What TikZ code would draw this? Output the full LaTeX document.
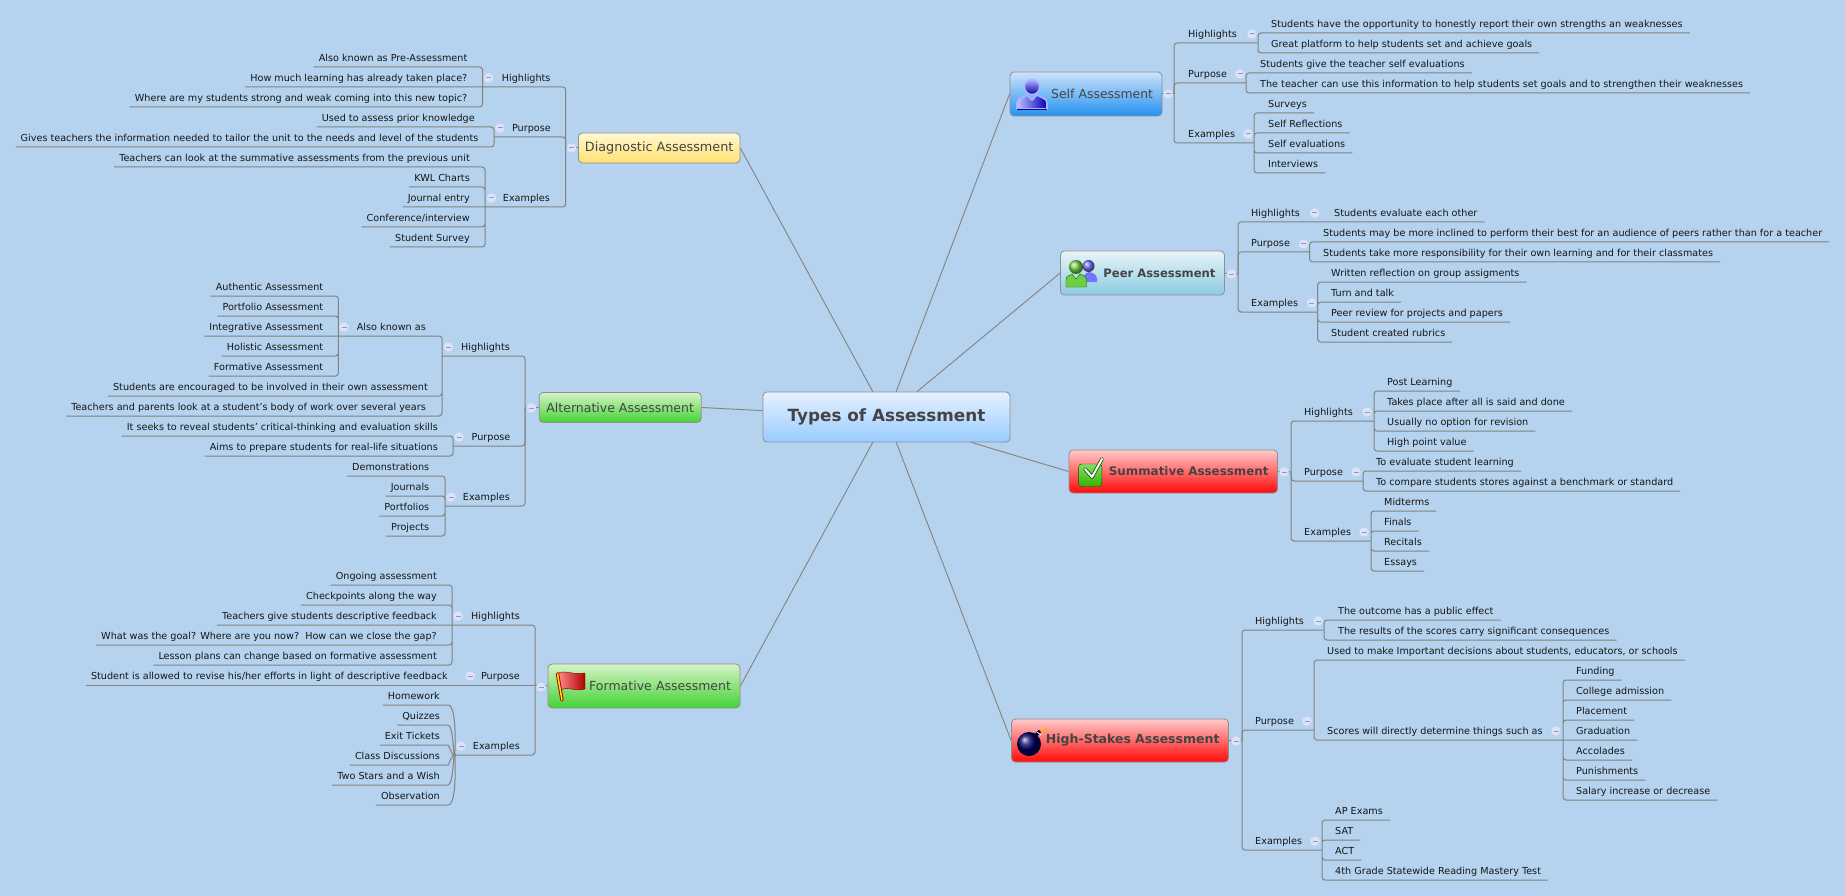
\documentclass[tikz,border=0pt]{standalone}
\usepackage{fontspec}
\setmainfont{DejaVu Sans}
\usetikzlibrary{positioning,calc}
\definecolor{paper}{HTML}{B5D2EE}
\definecolor{wire}{HTML}{85827F}
\definecolor{ink}{HTML}{161616}
\definecolor{boxink}{HTML}{444444}
\definecolor{foldfill}{HTML}{DCE3F8}
\definecolor{foldbar}{HTML}{8E98C8}
\definecolor{typestop}{HTML}{E6F1FF}
\definecolor{typesbot}{HTML}{98CCFF}
\definecolor{yellowtop}{HTML}{FFF9D2}
\definecolor{yellowbot}{HTML}{FFE070}
\definecolor{greentop}{HTML}{D6F3C6}
\definecolor{greenbot}{HTML}{44D335}
\definecolor{bluetop}{HTML}{CDE3FB}
\definecolor{bluebot}{HTML}{2391F0}
\definecolor{tealtop}{HTML}{E8F4F8}
\definecolor{tealbot}{HTML}{8CCBE2}
\definecolor{redtop}{HTML}{FFCACA}
\definecolor{redbot}{HTML}{FF0A0A}

\begin{document}
\begin{tikzpicture}[
    x=1pt,y=-1pt,
    conn/.style={draw=wire,line width=1pt,rounded corners=3pt},
    spoke/.style={draw=wire,line width=0.9pt},
    topic/.style={rectangle,draw=wire!90,line width=0.8pt,rounded corners=4pt,minimum height=30pt,align=right,inner xsep=9pt,inner ysep=0pt,text=boxink,font=\fontsize{12.5}{15}\selectfont},
    leafl/.style={anchor=south east,inner xsep=5pt,inner ysep=3pt,text height=9pt,text depth=2.5pt,text=ink,font=\fontsize{9.65}{12}\selectfont},
    leafr/.style={anchor=south west,inner xsep=7pt,inner ysep=3pt,text height=9pt,text depth=2.5pt,text=ink,font=\fontsize{9.65}{12}\selectfont},
    branchl/.style={leafl,inner xsep=0pt},
    branchr/.style={leafr,inner xsep=0pt},
    fold/.style={circle,fill=foldfill,minimum size=9.5pt,inner sep=0pt,path picture={\draw[foldbar,line width=1pt] ([xshift=-2.5pt]path picture bounding box.center) -- ([xshift=2.5pt]path picture bounding box.center);}},
    yellowbox/.style={topic,top color=yellowtop,bottom color=yellowbot},
    greenbox/.style={topic,top color=greentop,bottom color=greenbot},
    bluebox/.style={topic,top color=bluetop,bottom color=bluebot},
    tealbox/.style={topic,top color=tealtop,bottom color=tealbot},
    redbox/.style={topic,top color=redtop,bottom color=redbot}
]
    \fill[paper] (0,0) rectangle (1845,896);

    % centre and topics
    \node[topic,font=\fontsize{16.8}{20}\bfseries\selectfont,align=center,minimum width=247pt,minimum height=50pt,top color=typestop,bottom color=typesbot] (types) at (886.5,417) {Types of Assessment};
    \node[yellowbox,align=center,inner xsep=2pt,minimum width=161.5pt,font=\fontsize{12.8}{15}\selectfont] (diag) at (659.2,148) {Diagnostic Assessment};
    \node[greenbox,align=center,inner xsep=2pt,minimum width=162pt] (alt) at (620.2,407.5) {Alternative Assessment};
    \node[greenbox,text width=174pt,minimum height=44pt] (form) at (644,686) {Formative Assessment};
    \node[bluebox,text width=134pt,minimum height=44pt,font=\fontsize{12.4}{15}\selectfont] (self) at (1086,94) {Self Assessment};
    \node[tealbox,text width=146pt,minimum height=44pt,font=\fontsize{11.6}{15}\bfseries\selectfont] (peer) at (1142.5,273) {Peer Assessment};
    \node[redbox,text width=190.5pt,minimum height=43pt,font=\fontsize{11.9}{15}\bfseries\selectfont] (summ) at (1173.3,471.5) {Summative Assessment};
    \node[redbox,text width=199pt,minimum height=43pt,font=\fontsize{12.5}{15}\bfseries\selectfont] (high) at (1120,740.5) {High-Stakes Assessment};

    \draw[spoke] (types) -- (diag.east);
    \draw[spoke] (types) -- (alt.east);
    \draw[spoke] (types) -- (form.east);
    \draw[spoke] (types) -- (self.west);
    \draw[spoke] (types) -- (peer.west);
    \draw[spoke] (types) -- (summ.west);
    \draw[spoke] (types) -- (high.west);

    % trunks and brackets
    \coordinate (diagtrunk) at (565.6,148);
    \coordinate (diaghighb) at (482.5,87);
    \coordinate (diagpurpb) at (494,137);
    \coordinate (diagexamb) at (485,207);
    \coordinate (alttrunk) at (525,408);
    \coordinate (althighb) at (442,356);
    \coordinate (altakab) at (338.4,336);
    \coordinate (altpurpb) at (453,446);
    \coordinate (altexamb) at (445,506);
    \coordinate (formtrunk) at (535,685);
    \coordinate (formhighb) at (452,625);
    \coordinate (formexamb) at (455,755);
    \coordinate (selftrunk) at (1174,94);
    \coordinate (selfhighb) at (1258,43);
    \coordinate (selfpurpb) at (1246,83);
    \coordinate (selfexamb) at (1254,143);
    \coordinate (peertrunk) at (1238,274);
    \coordinate (peerpurpb) at (1309.6,252);
    \coordinate (peerexamb) at (1317.7,312);
    \coordinate (summtrunk) at (1291,472);
    \coordinate (summhighb) at (1374,421);
    \coordinate (summpurpb) at (1363,481);
    \coordinate (summexamb) at (1371,541);
    \coordinate (hightrunk) at (1242,741);
    \coordinate (highhighb) at (1324,630);
    \coordinate (highpurpb) at (1314,730);
    \coordinate (highscorb) at (1563,740);
    \coordinate (highexamb) at (1322,850);

    % diagnostic
    \node[branchl] (diaghigh) at (550.7,87) {Highlights};
    \node[branchl] (diagpurp) at (551,137) {Purpose};
    \node[branchl] (diagexam) at (550,207) {Examples};
    \node[leafl] (diaghighA) at (472.5,67) {Also known as Pre-Assessment};
    \node[leafl] (diaghighB) at (472.5,87) {How much learning has already taken place?};
    \node[leafl] (diaghighC) at (472.5,107) {Where are my students strong and weak coming into this new topic?};
    \node[leafl] (diagpurpA) at (480,127) {Used to assess prior knowledge};
    \node[leafl] (diagpurpB) at (483.5,147) {Gives teachers the information needed to tailor the unit to the needs and level of the students};
    \node[leafl] (diagexamA) at (475,167) {Teachers can look at the summative assessments from the previous unit};
    \node[leafl] (diagexamB) at (475,187) {KWL Charts};
    \node[leafl] (diagexamC) at (475,207) {Journal entry};
    \node[leafl] (diagexamD) at (475,227) {Conference/interview};
    \node[leafl] (diagexamE) at (475,247) {Student Survey};

    \draw[conn] (diag.west) -- (diagtrunk);
    \draw[conn] (diagtrunk) |- (diaghigh.south east) -- (diaghighb);
    \draw[conn] (diagtrunk) |- (diagpurp.south east) -- (diagpurpb);
    \draw[conn] (diagtrunk) |- (diagexam.south east) -- (diagexamb);
    \draw[conn] (diaghighb) |- (diaghighA.south west) (diaghighb) -- (diaghighB.south west) (diaghighb) |- (diaghighC.south west);
    \draw[conn] (diagpurpb) |- (diagpurpA.south west) (diagpurpb) |- (diagpurpB.south west);
    \draw[conn] (diagexamb) |- (diagexamA.south west) (diagexamb) |- (diagexamB.south west) (diagexamb) -- (diagexamC.south west) (diagexamb) |- (diagexamD.south west) (diagexamb) |- (diagexamE.south west);

    % alternative
    \node[branchl] (althigh) at (510,356) {Highlights};
    \node[branchl] (altaka) at (426,336) {Also known as};
    \node[branchl] (altpurp) at (510.6,446) {Purpose};
    \node[branchl] (altexam) at (510,506) {Examples};
    \node[leafl] (altakaA) at (328.4,296) {Authentic Assessment};
    \node[leafl] (altakaB) at (328.4,316) {Portfolio Assessment};
    \node[leafl] (altakaC) at (328.4,336) {Integrative Assessment};
    \node[leafl] (altakaD) at (328.4,356) {Holistic Assessment};
    \node[leafl] (altakaE) at (328.4,376) {Formative Assessment};
    \node[leafl] (althighA) at (433,396) {Students are encouraged to be involved in their own assessment};
    \node[leafl] (althighB) at (431,416) {Teachers and parents look at a student's body of work over several years};
    \node[leafl] (altpurpA) at (443,436) {It seeks to reveal students' critical-thinking and evaluation skills};
    \node[leafl] (altpurpB) at (443,456) {Aims to prepare students for real-life situations};
    \node[leafl] (altexamA) at (434.4,476) {Demonstrations};
    \node[leafl] (altexamB) at (434.4,496) {Journals};
    \node[leafl] (altexamC) at (434.4,516) {Portfolios};
    \node[leafl] (altexamD) at (434.4,536) {Projects};

    \draw[conn] (alt.west) -- (alttrunk);
    \draw[conn] (alttrunk) |- (althigh.south east) -- (althighb);
    \draw[conn] (alttrunk) |- (altpurp.south east) -- (altpurpb);
    \draw[conn] (alttrunk) |- (altexam.south east) -- (altexamb);
    \draw[conn] (althighb) |- (altaka.south east) -- (altakab);
    \draw[conn] (althighb) |- (althighA.south west) (althighb) |- (althighB.south west);
    \draw[conn] (altakab) |- (altakaA.south west) (altakab) |- (altakaB.south west) (altakab) -- (altakaC.south west) (altakab) |- (altakaD.south west) (altakab) |- (altakaE.south west);
    \draw[conn] (altpurpb) |- (altpurpA.south west) (altpurpb) |- (altpurpB.south west);
    \draw[conn] (altexamb) |- (altexamA.south west) (altexamb) |- (altexamB.south west) (altexamb) |- (altexamC.south west) (altexamb) |- (altexamD.south west);

    % formative
    \node[branchl] (formhigh) at (520,625) {Highlights};
    \node[branchl] (formpurp) at (520,685) {Purpose};
    \node[branchl] (formexam) at (520,755) {Examples};
    \node[leafl] (formhighA) at (442,585) {Ongoing assessment};
    \node[leafl] (formhighB) at (442,605) {Checkpoints along the way};
    \node[leafl] (formhighC) at (442,625) {Teachers give students descriptive feedback};
    \node[leafl] (formhighD) at (442,645) {What was the goal? Where are you now?\ \ How can we close the gap?};
    \node[leafl] (formhighE) at (442,665) {Lesson plans can change based on formative assessment};
    \node[leafl] (formpurpA) at (453,685) {Student is allowed to revise his/her efforts in light of descriptive feedback};
    \node[leafl] (formexamA) at (445,705) {Homework};
    \node[leafl] (formexamB) at (445,725) {Quizzes};
    \node[leafl] (formexamC) at (445,745) {Exit Tickets};
    \node[leafl] (formexamD) at (445,765) {Class Discussions};
    \node[leafl] (formexamE) at (445,785) {Two Stars and a Wish};
    \node[leafl] (formexamF) at (445,805) {Observation};

    \draw[conn] (form.west) -- (formtrunk);
    \draw[conn] (formtrunk) |- (formhigh.south east) -- (formhighb);
    \draw[conn] (formtrunk) -- (formpurpA.south west);
    \draw[conn] (formtrunk) |- (formexam.south east) -- (formexamb);
    \draw[conn] (formhighb) |- (formhighA.south west) (formhighb) |- (formhighB.south west) (formhighb) -- (formhighC.south west) (formhighb) |- (formhighD.south west) (formhighb) |- (formhighE.south west);
    \draw[conn] (formexamb) to[out=-95,in=0,looseness=0.7] (formexamA.south east) -- (formexamA.south west);
    \draw[conn] (formexamb) to[out=-100,in=0,looseness=0.7] (formexamB.south east) -- (formexamB.south west);
    \draw[conn] (formexamb) to[out=-120,in=0,looseness=0.7] (formexamC.south east) -- (formexamC.south west);
    \draw[conn] (formexamb) to[out=120,in=0,looseness=0.7] (formexamD.south east) -- (formexamD.south west);
    \draw[conn] (formexamb) to[out=100,in=0,looseness=0.7] (formexamE.south east) -- (formexamE.south west);
    \draw[conn] (formexamb) to[out=95,in=0,looseness=0.7] (formexamF.south east) -- (formexamF.south west);

    % self
    \node[branchr] (selfhigh) at (1188,43) {Highlights};
    \node[branchr] (selfpurp) at (1188,83) {Purpose};
    \node[branchr] (selfexam) at (1188,143) {Examples};
    \node[leafr] (selfhighA) at (1264,33) {Students have the opportunity to honestly report their own strengths an weaknesses};
    \node[leafr] (selfhighB) at (1264,53) {Great platform to help students set and achieve goals};
    \node[leafr] (selfpurpA) at (1253,73) {Students give the teacher self evaluations};
    \node[leafr] (selfpurpB) at (1253,93) {The teacher can use this information to help students set goals and to strengthen their weaknesses};
    \node[leafr] (selfexamA) at (1261,113) {Surveys};
    \node[leafr] (selfexamB) at (1261,133) {Self Reflections};
    \node[leafr] (selfexamC) at (1261,153) {Self evaluations};
    \node[leafr] (selfexamD) at (1261,173) {Interviews};

    \draw[conn] (self.east) -- (selftrunk);
    \draw[conn] (selftrunk) |- (selfhigh.south west) -- (selfhighb);
    \draw[conn] (selftrunk) |- (selfpurp.south west) -- (selfpurpb);
    \draw[conn] (selftrunk) |- (selfexam.south west) -- (selfexamb);
    \draw[conn] (selfhighb) |- (selfhighA.south east) (selfhighb) |- (selfhighB.south east);
    \draw[conn] (selfpurpb) |- (selfpurpA.south east) (selfpurpb) |- (selfpurpB.south east);
    \draw[conn] (selfexamb) |- (selfexamA.south east) (selfexamb) |- (selfexamB.south east) (selfexamb) |- (selfexamC.south east) (selfexamb) |- (selfexamD.south east);

    % peer
    \node[branchr] (peerhigh) at (1251,222) {Highlights};
    \node[branchr] (peerpurp) at (1251,252) {Purpose};
    \node[branchr] (peerexam) at (1251,312) {Examples};
    \node[leafr] (peerhighA) at (1327,222) {Students evaluate each other};
    \node[leafr] (peerpurpA) at (1316,242) {Students may be more inclined to perform their best for an audience of peers rather than for a teacher};
    \node[leafr] (peerpurpB) at (1316,262) {Students take more responsibility for their own learning and for their classmates};
    \node[leafr] (peerexamA) at (1324,282) {Written reflection on group assigments};
    \node[leafr] (peerexamB) at (1324,302) {Turn and talk};
    \node[leafr] (peerexamC) at (1324,322) {Peer review for projects and papers};
    \node[leafr] (peerexamD) at (1324,342) {Student created rubrics};

    \draw[conn] (peer.east) -- (peertrunk);
    \draw[conn] (peertrunk) |- (peerhighA.south east);
    \draw[conn] (peertrunk) |- (peerpurp.south west) -- (peerpurpb);
    \draw[conn] (peertrunk) |- (peerexam.south west) -- (peerexamb);
    \draw[conn] (peerpurpb) |- (peerpurpA.south east) (peerpurpb) |- (peerpurpB.south east);
    \draw[conn] (peerexamb) |- (peerexamA.south east) (peerexamb) |- (peerexamB.south east) (peerexamb) |- (peerexamC.south east) (peerexamb) |- (peerexamD.south east);

    % summative
    \node[branchr] (summhigh) at (1304,421) {Highlights};
    \node[branchr] (summpurp) at (1304,481) {Purpose};
    \node[branchr] (summexam) at (1304,541) {Examples};
    \node[leafr] (summhighA) at (1380,391) {Post Learning};
    \node[leafr] (summhighB) at (1380,411) {Takes place after all is said and done};
    \node[leafr] (summhighC) at (1380,431) {Usually no option for revision};
    \node[leafr] (summhighD) at (1380,451) {High point value};
    \node[leafr] (summpurpA) at (1369,471) {To evaluate student learning};
    \node[leafr] (summpurpB) at (1369,491) {To compare students stores against a benchmark or standard};
    \node[leafr] (summexamA) at (1377,511) {Midterms};
    \node[leafr] (summexamB) at (1377,531) {Finals};
    \node[leafr] (summexamC) at (1377,551) {Recitals};
    \node[leafr] (summexamD) at (1377,571) {Essays};

    \draw[conn] (summ.east) -- (summtrunk);
    \draw[conn] (summtrunk) |- (summhigh.south west) -- (summhighb);
    \draw[conn] (summtrunk) |- (summpurp.south west) -- (summpurpb);
    \draw[conn] (summtrunk) |- (summexam.south west) -- (summexamb);
    \draw[conn] (summhighb) |- (summhighA.south east) (summhighb) |- (summhighB.south east) (summhighb) |- (summhighC.south east) (summhighb) |- (summhighD.south east);
    \draw[conn] (summpurpb) |- (summpurpA.south east) (summpurpb) |- (summpurpB.south east);
    \draw[conn] (summexamb) |- (summexamA.south east) (summexamb) |- (summexamB.south east) (summexamb) |- (summexamC.south east) (summexamb) |- (summexamD.south east);

    % high-stakes
    \node[branchr] (highhigh) at (1255,630) {Highlights};
    \node[branchr] (highpurp) at (1255,730) {Purpose};
    \node[branchr] (highexam) at (1255,850) {Examples};
    \node[leafr] (highhighA) at (1331,620) {The outcome has a public effect};
    \node[leafr] (highhighB) at (1331,640) {The results of the scores carry significant consequences};
    \node[leafr] (highpurpA) at (1320,660) {Used to make Important decisions about students, educators, or schools};
    \node[branchr] (highscor) at (1327,740) {Scores will directly determine things such as};
    \node[leafr] (highscorA) at (1569,680) {Funding};
    \node[leafr] (highscorB) at (1569,700) {College admission};
    \node[leafr] (highscorC) at (1569,720) {Placement};
    \node[leafr] (highscorD) at (1569,740) {Graduation};
    \node[leafr] (highscorE) at (1569,760) {Accolades};
    \node[leafr] (highscorF) at (1569,780) {Punishments};
    \node[leafr] (highscorG) at (1569,800) {Salary increase or decrease};
    \node[leafr] (highexamA) at (1328,820) {AP Exams};
    \node[leafr] (highexamB) at (1328,840) {SAT};
    \node[leafr] (highexamC) at (1328,860) {ACT};
    \node[leafr] (highexamD) at (1328,880) {4th Grade Statewide Reading Mastery Test};

    \draw[conn] (high.east) -- (hightrunk);
    \draw[conn] (hightrunk) |- (highhigh.south west) -- (highhighb);
    \draw[conn] (hightrunk) |- (highpurp.south west) -- (highpurpb);
    \draw[conn] (hightrunk) |- (highexam.south west) -- (highexamb);
    \draw[conn] (highhighb) |- (highhighA.south east) (highhighb) |- (highhighB.south east);
    \draw[conn] (highpurpb) |- (highpurpA.south east);
    \draw[conn] (highpurpb) |- (highscor.south west) -- (highscorb);
    \draw[conn] (highscorb) |- (highscorA.south east) (highscorb) |- (highscorB.south east) (highscorb) |- (highscorC.south east) (highscorb) -- (highscorD.south east) (highscorb) |- (highscorE.south east) (highscorb) |- (highscorF.south east) (highscorb) |- (highscorG.south east);
    \draw[conn] (highexamb) |- (highexamA.south east) (highexamb) |- (highexamB.south east) (highexamb) |- (highexamC.south east) (highexamb) |- (highexamD.south east);

    % fold marks
    \node[fold] (diagfold) at (571.5,148) {};
    \node[fold] (diaghighf) at (488.5,78) {};
    \node[fold] (diagpurpf) at (500,128) {};
    \node[fold] (diagexamf) at (491.5,198) {};
    \node[fold] (altfold) at (531.4,408) {};
    \node[fold] (althighf) at (448.4,347) {};
    \node[fold] (altakaf) at (344,327) {};
    \node[fold] (altpurpf) at (459,437) {};
    \node[fold] (altexamf) at (451,497) {};
    \node[fold] (formfold) at (541,687) {};
    \node[fold] (formhighf) at (458,616) {};
    \node[fold] (formpurpf) at (470,676) {};
    \node[fold] (formexamf) at (461,746) {};
    \node[fold] (selffold) at (1168,94) {};
    \node[fold] (selfhighf) at (1252,34) {};
    \node[fold] (selfpurpf) at (1240,74) {};
    \node[fold] (selfexamf) at (1248,134) {};
    \node[fold] (peerfold) at (1231.5,274) {};
    \node[fold] (peerhighf) at (1314.7,213) {};
    \node[fold] (peerpurpf) at (1303.5,244) {};
    \node[fold] (peerexamf) at (1311.7,303) {};
    \node[fold] (summfold) at (1284,472) {};
    \node[fold] (summhighf) at (1367,412) {};
    \node[fold] (summpurpf) at (1356,472) {};
    \node[fold] (summexamf) at (1364,532) {};
    \node[fold] (highfold) at (1236,741) {};
    \node[fold] (highhighf) at (1318,621) {};
    \node[fold] (highpurpf) at (1307,721) {};
    \node[fold] (highscorf) at (1556,731) {};
    \node[fold] (highexamf) at (1315,841) {};

    % icons
    \draw[white!70!blue,line width=1.6pt,left color=blue!25!white,right color=blue!70!black] (1017,109) -- (1017,103) .. controls (1017,98) and (1023,98) .. (1027,95) -- (1032,100) -- (1037,95) .. controls (1041,98) and (1047,98) .. (1047,103) -- (1047,109) -- cycle;
    \draw[blue!60!black,line width=0.4pt] (1017,109) -- (1047,109);
    \draw[white!70!blue,line width=1.4pt,top color=blue!30!white,bottom color=blue!65!black] (1032,87) circle (7.5);

    \shade[ball color=blue!55!white] (1088.5,266) circle (6);
    \fill[blue!55!white] (1084,282) -- (1084,277) .. controls (1084,274) and (1086,273) .. (1089,272) .. controls (1094,273) and (1097,275) .. (1097,279) -- (1097,282) -- cycle;
    \shade[ball color=green!50!olive!70!white] (1076,267) circle (7);
    \draw[green!40!black,fill=green!50!olive!75!white] (1066,287) -- (1066,280) .. controls (1066,276) and (1070,275) .. (1072,274) -- (1076,279) -- (1080,274) .. controls (1083,275) and (1086.5,276) .. (1086.5,280) -- (1086.5,287) -- cycle;

    \draw[green!35!black,rounded corners=3pt,top color=green!50!olive!60!white,bottom color=green!55!olive!90!black] (1078.6,464) rectangle (1101.8,486.7);
    \draw[green!35!black,line width=3.6pt,line cap=round,line join=round] (1085,469) -- (1092,477) -- (1102,459);
    \draw[white,line width=2pt,line cap=round,line join=round] (1085,469) -- (1092,477) -- (1102,459);

    \draw[red!50!black,left color=red!45!white,right color=red!70!black] (558,673) .. controls (566,670) and (572,675) .. (585,673) -- (585,689) .. controls (575,692) and (568,686) .. (561,690) -- cycle;
    \draw[red!70!black,line width=3.4pt,line cap=round] (557.5,674) -- (562,700);
    \draw[yellow!90!orange,line width=1.5pt,line cap=round] (557.5,674) -- (562,700);

    \shade[ball color=blue!40!black] (1029,744) circle (12);
    \draw[blue!20!black,line width=3.5pt] (1036,735) -- (1040,731);
    \draw[white,line width=0.8pt] (1037,732) -- (1041,735);
    \draw[orange!60!yellow,line width=1.5pt,line cap=round] (1041,731) .. controls (1044,732) and (1046,731) .. (1047,728);
\end{tikzpicture}
\end{document}
